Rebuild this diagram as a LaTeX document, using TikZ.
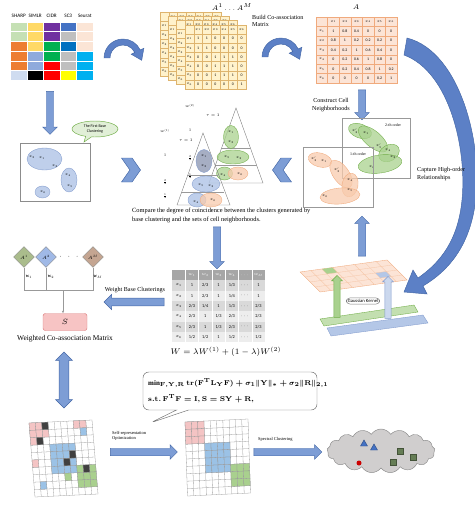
\RequirePackage{fix-cm}
\documentclass[tikz,border=0pt]{standalone}
\usepackage{amsmath,amssymb}
\usepackage{fontspec}
\setmainfont{Liberation Serif}
\setsansfont{Carlito}
\usepackage{tikz}
\usetikzlibrary{shapes,arrows.meta,positioning,calc}
\usepackage{xcolor}
\definecolor{arrowfill}{RGB}{125,157,213}
\definecolor{arrowline}{RGB}{68,103,166}
\definecolor{bigblue}{RGB}{92,128,198}
\definecolor{coyellow}{RGB}{255,242,204}
\definecolor{coline}{RGB}{222,180,110}
\definecolor{apink}{RGB}{252,228,214}
\definecolor{aline}{RGB}{240,170,125}
\definecolor{cgreen}{RGB}{169,209,142}
\definecolor{cgreenline}{RGB}{112,173,71}
\definecolor{csalmon}{RGB}{248,203,173}
\definecolor{cblue}{RGB}{180,199,231}
\definecolor{cblueline}{RGB}{130,155,205}
\definecolor{cslate}{RGB}{150,160,185}
\definecolor{whead}{RGB}{166,166,166}
\definecolor{wdark}{RGB}{217,217,217}
\definecolor{wlight}{RGB}{237,237,237}
\definecolor{tgreen}{RGB}{197,224,180}
\definecolor{tyellow}{RGB}{255,217,102}
\definecolor{tpurple}{RGB}{112,48,160}
\definecolor{tblue}{RGB}{68,114,196}
\definecolor{tpeach}{RGB}{251,229,214}
\definecolor{tgray}{RGB}{191,191,191}
\definecolor{torange}{RGB}{237,125,49}
\definecolor{tgreen2}{RGB}{0,176,80}
\definecolor{tblue2}{RGB}{0,112,192}
\definecolor{tperi}{RGB}{143,170,220}
\definecolor{tcyan}{RGB}{0,176,240}
\definecolor{tred}{RGB}{255,0,0}
\definecolor{tpale}{RGB}{207,220,240}
\definecolor{tyel}{RGB}{255,255,0}
\definecolor{gpink}{RGB}{244,196,196}
\definecolor{gblue}{RGB}{155,194,230}
\definecolor{ggreen}{RGB}{169,208,142}
\definecolor{gdark}{RGB}{64,64,64}
\definecolor{cloudgray}{RGB}{208,206,206}
\definecolor{sfill}{RGB}{247,196,196}
\definecolor{sline}{RGB}{220,130,130}
\newcommand{\upx}{0.03cm}

\begin{document}
\begin{tikzpicture}[x=0.03cm, y=-0.03cm, >=Latex]
  \tikzstyle{lbl} = [font=\fontsize{5.2}{6.2}\selectfont, inner sep=0pt, align=center]
  \tikzstyle{hdr} = [font=\sffamily\fontsize{4.4}{5}\selectfont, inner sep=0pt]
  \tikzstyle{mtxt} = [font=\sffamily\fontsize{3.3}{4}\selectfont, inner sep=0pt]
  \tikzstyle{wtxt} = [font=\sffamily\fontsize{3.7}{4.4}\selectfont, inner sep=0pt]
  \tikzstyle{itxt} = [font=\fontsize{3.4}{4}\selectfont, inner sep=0pt]
  \tikzstyle{barrow} = [single arrow, draw=arrowline, fill=arrowfill, line width=0.4pt, inner xsep=0pt, inner ysep=3pt, single arrow head extend=3pt, single arrow head indent=0pt]
  \tikzstyle{darrow} = [double arrow, draw=arrowline, fill=arrowfill, line width=0.4pt, inner xsep=0pt, inner ysep=4pt, double arrow head extend=3pt, double arrow head indent=0pt]
  \tikzstyle{chev} = [signal, draw=arrowline, fill=arrowfill, line width=0.4pt, signal pointer angle=110, minimum width=19*\upx, minimum height=24*\upx, inner sep=0pt]
  \tikzstyle{gell} = [fill=cgreen, fill opacity=0.75, draw=cgreenline, line width=0.3pt]
  \tikzstyle{sell} = [fill=csalmon, fill opacity=0.75, draw=aline, line width=0.3pt]
  \tikzstyle{bell} = [fill=cblue, fill opacity=0.85, draw=cblueline, line width=0.3pt]
  \tikzstyle{dmd} = [diamond, draw=black!45, minimum size=21*\upx, inner sep=0pt, font=\fontsize{4}{5}\selectfont]
  \tikzstyle{gridln} = [black!40, line width=0.25pt]
  \tikzstyle{objtxt} = [inner sep=0pt, anchor=west, font=\boldmath\fontsize{6}{8}\selectfont]
  \useasboundingbox (0,0) rectangle (474,506);

  % clustering methods table
  \foreach \m [count=\k from 0] in {SHARP,SIMLR,CIDR,SC3,Seurat}
    \node[hdr] (meth\k) at (18.75+16.5*\k,16) {\m};
  \foreach \rowcols [count=\r from 0] in {{tgreen,tyellow,tpurple,tblue,tpeach},{tgreen,tyellow,tpurple,tgray,tpeach},{torange,tyellow,tgreen2,tblue2,tpeach},{torange,tperi,tgreen2,tgray,tcyan},{torange,tperi,tred,tgray,tcyan},{tpale,black,tred,tyel,tcyan}}
    \foreach \cl [count=\k from 0] in \rowcols
      \filldraw[fill=\cl, draw=white, line width=0.5pt] (10.5+16.5*\k,22+9.7*\r) rectangle ++(16.5,9.7);

  % curved arrows at the top
  \foreach \cx/\cy in {123/58, 281/57}
    \filldraw[fill=bigblue, draw=arrowline, line width=0.4pt] ($(\cx,\cy)+(180:19)$) arc[start angle=180, end angle=335, radius=19] -- ($(\cx,\cy)+(335:23)$) -- ($(\cx,\cy)+(18.7,2.3)$) -- ($(\cx,\cy)+(335:9)$) -- ($(\cx,\cy)+(335:13)$) arc[start angle=335, end angle=180, radius=13] -- cycle;

  % stack of co-association matrices
  \node[font=\fontsize{6}{7}\selectfont, inner sep=0pt] (stacklbl) at (232,7) {$A^1 \ldots A^M$};
  \foreach \dx/\dy in {-25/-13,-17/-9,-9/-5,0/0} {
    \begin{scope}[shift={(185+\dx,25+\dy)}]
      \filldraw[fill=coyellow, draw=coline, line width=0.3pt] (0,0) rectangle (61,64);
      \foreach \i in {1,...,6} {
        \draw[coline, line width=0.3pt] (8.7*\i,0) -- (8.7*\i,64) (0,9.14*\i) -- (61,9.14*\i);
        \node[mtxt] (ch\i) at (8.7*\i+4.35,4.57) {$x_{\i}$};
        \node[mtxt] (rh\i) at (4.35,9.14*\i+4.57) {$x_{\i}$};
      }
    \end{scope}
  }
  \foreach \vals [count=\r] in {{1,1,0,0,0,0},{1,1,0,0,0,0},{0,0,1,1,1,0},{0,0,1,1,1,0},{0,0,1,1,1,0},{0,0,0,0,0,1}}
    \foreach \v [count=\k] in \vals
      \node[mtxt] (f\r\k) at (185+8.7*\k+4.35,25+9.14*\r+4.57) {\v};
  \node[lbl, anchor=north west, align=left] (buildtxt) at (252,15) {Build Co-association\\Matrix};

  % consensus matrix A
  \node[font=\fontsize{6}{7}\selectfont, inner sep=0pt] (Alabel) at (356,7) {$A$};
  \filldraw[fill=apink, draw=aline, line width=0.3pt] (316,17) rectangle (397,83);
  \foreach \i in {1,...,6} {
    \draw[aline, line width=0.3pt] (316+11.57*\i,17) -- (316+11.57*\i,83) (316,17+9.43*\i) -- (397,17+9.43*\i);
    \node[mtxt] (ach\i) at (316+11.57*\i+5.79,17+4.71) {$x_{\i}$};
    \node[mtxt] (arh\i) at (316+5.79,17+9.43*\i+4.71) {$x_{\i}$};
  }
  \foreach \vals [count=\r] in {{1,0.8,0.4,0,0,0},{0.8,1,0.2,0.2,0.2,0},{0.4,0.2,1,0.6,0.4,0},{0,0.2,0.6,1,0.8,0},{0,0.2,0.4,0.8,1,0.2},{0,0,0,0,0.2,1}}
    \foreach \v [count=\k] in \vals
      \node[mtxt] (a\r\k) at (316+11.57*\k+5.79,17+9.43*\r+4.71) {\v};

  % big arrow down the right side
  \filldraw[fill=bigblue, draw=arrowline, line width=0.4pt] (407,38) .. controls (462,52) and (484,150) .. (475,205) .. controls (469,245) and (450,270) .. (423,286) -- (427,294) -- (404,292) -- (413,270) -- (418,278) .. controls (441,262) and (458,240) .. (462,200) .. controls (467,150) and (450,72) .. (404,55) -- cycle;

  % block arrows
  \node[barrow, rotate=270, minimum height=43*\upx, minimum width=13*\upx] (arrTab) at (50,111) {};
  \node[barrow, rotate=270, minimum height=30*\upx, minimum width=13*\upx] (arrA) at (362,103) {};
  \node[barrow, rotate=90, minimum height=40*\upx, minimum width=13*\upx] (arrK) at (362,238) {};
  \node[barrow, rotate=270, minimum height=42*\upx, minimum width=13*\upx] (arrW) at (217,246) {};
  \node[barrow, rotate=180, minimum height=60*\upx, minimum width=15*\upx] (arrWb) at (136,302) {};
  \node[darrow, rotate=90, minimum height=56*\upx, minimum width=16*\upx] (arrS) at (64,380) {};
  \node[barrow, minimum height=67*\upx, minimum width=14*\upx] (arrOpt) at (142,452) {};
  \node[barrow, minimum height=68*\upx, minimum width=14*\upx] (arrSpec) at (286,452) {};
  \node[chev, signal to=east, signal from=west] (chevR) at (131,170) {};
  \node[chev, signal to=west, signal from=east] (chevL) at (282,170) {};

  % first base clustering
  \node[ellipse callout, draw=cgreenline, fill=cgreen!35, callout absolute pointer={(84,142)}, minimum width=46*\upx, minimum height=16*\upx, inner sep=0pt, font=\sffamily\fontsize{3.4}{4}\selectfont, align=center] (bubble) at (95,129) {The First Base\\Clustering};
  \draw[black!45, line width=0.3pt] (20,143) rectangle (90,201);
  \draw[bell] (44.5,159) ellipse [x radius=17.5, y radius=11];
  \draw[bell] (69,180) ellipse [x radius=8, y radius=12];
  \draw[bell] (42.5,192) ellipse [x radius=7.5, y radius=6];
  \node[itxt] (b1) at (32,157) {$x_2$};
  \node[itxt] (b2) at (42,158) {$x_1$};
  \node[itxt] (b3) at (55,166) {$x_3$};
  \node[itxt] (b4) at (68,175) {$x_4$};
  \node[itxt] (b5) at (70,186) {$x_5$};
  \node[itxt] (b6) at (43,192) {$x_6$};

  % two pyramids
  \node[itxt] (wax2) at (190,106) {$w^{(2)}$};
  \node[itxt] (t2a) at (190,130) {1};
  \node[itxt] (t2b) at (190,158) {$\frac{2}{3}$};
  \node[itxt] (t2c) at (190,176) {$\frac{1}{3}$};
  \node[itxt] (tau2) at (213,115) {$\tau=1$};
  \draw[black!55, line width=0.3pt] (236,108) -- (209,183) -- (263,183) -- cycle;
  \draw[black!40, line width=0.3pt] (221,148) -- (250,148) (214.5,165) -- (256.5,165);
  \draw[gell] (231,137) ellipse [x radius=7.5, y radius=11.5];
  \draw[gell] (233,157) ellipse [x radius=16, y radius=7];
  \draw[gell] (224.5,173.5) ellipse [x radius=8, y radius=6.5];
  \draw[sell] (238,173.5) ellipse [x radius=10, y radius=6.5];
  \node[itxt] (p1) at (231,132) {$x_1$};
  \node[itxt] (p2) at (231,142) {$x_2$};
  \node[itxt] (p3) at (227,157) {$x_5$};
  \node[itxt] (p4) at (239,158) {$x_3$};
  \node[itxt] (p5) at (223,175) {$x_4$};
  \node[itxt] (p6) at (240,174) {$x_6$};
  \node[itxt] (wax1) at (165,131) {$w^{(1)}$};
  \node[itxt] (t1a) at (165,155) {1};
  \node[itxt] (t1b) at (165,182) {$\frac{2}{3}$};
  \node[itxt] (t1c) at (165,196) {$\frac{1}{3}$};
  \node[itxt] (tau1) at (186,140) {$\tau=1$};
  \draw[black!55, line width=0.3pt] (203,133) -- (177,205) -- (230,205) -- cycle;
  \draw[black!40, line width=0.3pt] (187,175) -- (218,175) (181,192) -- (224,192);
  \draw[fill=cslate, fill opacity=0.85, draw=cblueline, line width=0.3pt] (204,161) ellipse [x radius=8, y radius=11.5];
  \draw[bell] (206,184) ellipse [x radius=14, y radius=8];
  \draw[bell] (197,200) ellipse [x radius=9, y radius=7];
  \draw[sell] (211,200) ellipse [x radius=11, y radius=7];
  \node[itxt] (q1) at (204,156) {$x_1$};
  \node[itxt] (q2) at (204,166) {$x_2$};
  \node[itxt] (q3) at (201,185) {$x_5$};
  \node[itxt] (q4) at (211,186) {$x_3$};
  \node[itxt] (q5) at (196,202) {$x_4$};
  \node[itxt] (q6) at (213,200) {$x_6$};
  \node[lbl, anchor=north west, align=left, font=\fontsize{5.45}{7.6}\selectfont] (caption) at (132,207.5) {Compare the degree of coincidence between the clusters generated by\\base clustering  and the sets of cell neighborhoods.};

  % cell neighborhoods
  \node[lbl] (constr) at (331,105) {Construct Cell\\Neighborhoods};
  \draw[black!40, line width=0.3pt] (342,118) rectangle (410,178);
  \draw[gell, rotate around={-20:(360,131)}] (360,131) ellipse [x radius=12, y radius=7];
  \draw[gell, rotate around={-40:(373,139)}] (373,139) ellipse [x radius=18, y radius=8];
  \draw[gell, rotate around={30:(389,153)}] (389,153) ellipse [x radius=11, y radius=8];
  \draw[gell, rotate around={8:(380,164)}] (380,164) ellipse [x radius=22, y radius=9];
  \node[itxt] (n1) at (355,131) {$x_3'$};
  \node[itxt] (n2) at (366,133) {$x_1$};
  \node[itxt] (n3) at (379,146) {$x_5'$};
  \node[itxt] (n4) at (388,150) {$x_4$};
  \node[itxt] (n5) at (393,157) {$x_3$};
  \node[itxt] (n6) at (372,167) {$x_6$};
  \node[itxt] (ord2) at (393,125) {2-th order};
  \draw[black!40, line width=0.3pt] (303,147) rectangle (373,207);
  \draw[sell, rotate around={-15:(320,160)}] (320,160) ellipse [x radius=12, y radius=7];
  \draw[sell, rotate around={-55:(341,174)}] (341,174) ellipse [x radius=16, y radius=8];
  \draw[sell, rotate around={-10:(350,185)}] (350,185) ellipse [x radius=8, y radius=12];
  \draw[sell, rotate around={5:(340,196)}] (340,196) ellipse [x radius=20, y radius=8];
  \node[itxt] (m1) at (314,159) {$x_3'$};
  \node[itxt] (m2) at (324,161) {$x_1$};
  \node[itxt] (m3) at (337,170) {$x_2'$};
  \node[itxt] (m4) at (350,180) {$x_4$};
  \node[itxt] (m5) at (350,190) {$x_5$};
  \node[itxt] (m6) at (325,196) {$x_6$};
  \node[itxt] (ord1) at (358,154) {1-th order};
  \node[lbl, anchor=west, align=left] (capture) at (417,174) {Capture High-order\\Relationships};

  % Gaussian kernel
  \filldraw[fill=apink, draw=aline, line width=0.3pt] (300,272) -- (387,260) -- (407,280) -- (320,292) -- cycle;
  \fill[cgreen] (300+10.875*2,272-1.5*2) -- ++(10.875,-1.5) -- ++(5,5) -- ++(-10.875,1.5) -- cycle;
  \fill[cblue] (300+10.875*6+10,272-1.5*6+10) -- ++(10.875,-1.5) -- ++(5,5) -- ++(-10.875,1.5) -- cycle;
  \foreach \i in {1,...,7}
    \draw[aline!70, line width=0.25pt] (300+10.875*\i,272-1.5*\i) -- ++(20,20);
  \foreach \j in {1,...,3}
    \draw[aline!70, line width=0.25pt] (300+5*\j,272+5*\j) -- ++(87,-12);
  \filldraw[fill=cgreen!70, draw=cgreenline, line width=0.3pt] (320,319) -- (414,305) -- (418,312) -- (324,326) -- cycle;
  \filldraw[fill=cblue, draw=cblueline, line width=0.3pt] (327,328) -- (423,315) -- (428,323) -- (331,336) -- cycle;
  \node[single arrow, draw=cgreenline, fill=cgreen, rotate=90, inner xsep=0pt, inner ysep=2.5pt, single arrow head extend=2pt, minimum height=42*\upx, minimum width=10*\upx] (garr) at (337,298) {};
  \node[single arrow, draw=cblueline, fill=cblue!70, rotate=90, inner xsep=0pt, inner ysep=2.5pt, single arrow head extend=2pt, minimum height=42*\upx, minimum width=10*\upx] (barr) at (388,299) {};
  \node[draw=black!50, fill=white, rounded corners=3pt, inner sep=1.2pt, font=\sffamily\fontsize{4}{5}\selectfont] (gauss) at (363,301) {Gaussian Kernel};

  % weight table
  \fill[whead] (172,270) rectangle (265,280.3);
  \foreach \r/\sh in {1/wdark,2/wlight,3/wdark,4/wlight,5/wdark,6/wlight}
    \fill[\sh] (172,270+10.3*\r) rectangle (265,280.3+10.3*\r);
  \foreach \i in {1,...,6}
    \draw[white, line width=0.5pt] (172+13.3*\i,270) -- (172+13.3*\i,342);
  \foreach \h [count=\k] in {$w_1$,$w_2$,$w_3$,$w_4$,$\cdots$,$w_M$}
    \node[wtxt, text=white] (wh\k) at (172+13.3*\k+6.65,275.15) {\h};
  \foreach \vals [count=\r] in {{1,2/3,1,1/3,$\cdots$,1},{1,2/3,1,1/4,$\cdots$,1},{2/3,1/4,1,1/3,$\cdots$,2/3},{2/3,1,1/3,2/3,$\cdots$,2/3},{2/3,1,1/3,2/3,$\cdots$,2/3},{1/2,1/2,1,1/2,$\cdots$,1/2}} {
    \node[wtxt] (wr\r) at (178.65,275.15+10.3*\r) {$x_{\r}$};
    \foreach \v [count=\k] in \vals
      \node[wtxt] (w\r\k) at (172+13.3*\k+6.65,275.15+10.3*\r) {\v};
  }
  \node[font=\fontsize{7}{8}\selectfont, inner sep=0pt] (wform) at (226,352) {$W=\lambda W^{(1)}+(1-\lambda)W^{(2)}$};
  \node[lbl] (wbase) at (135,290) {Weight Base Clusterings};

  % weighted base clusterings
  \node[dmd, fill={rgb,255:red,170;green,188;blue,140}] (d1) at (24,257) {$A^1$};
  \node[dmd, fill={rgb,255:red,160;green,185;blue,230}] (d2) at (46,257) {$A^2$};
  \node[dmd, fill={rgb,255:red,196;green,165;blue,145}] (dM) at (93,257) {$A^M$};
  \node[inner sep=0pt, font=\fontsize{6}{7}\selectfont] (ddots) at (69,257) {$\cdot\ \ \cdot\ \ \cdot$};
  \coordinate (bar) at (63,290);
  \draw[black!40, line width=0.3pt] (d1.south) |- (bar) (dM.south) |- (bar) (d2.south) -- (d2.south |- bar);
  \node[itxt, font=\fontsize{4}{5}\selectfont] (wt1) at (29,277) {$\mathbf{w}_1$};
  \node[itxt, font=\fontsize{4}{5}\selectfont] (wt2) at (51,277) {$\mathbf{w}_2$};
  \node[itxt, font=\fontsize{4}{5}\selectfont] (wtM) at (98,277) {$\mathbf{w}_M$};
  \node[draw=sline, fill=sfill, rounded corners=2pt, minimum width=44*\upx, minimum height=17*\upx, inner sep=0pt, font=\fontsize{6.5}{7}\selectfont] (S) at (65,322) {$S$};
  \draw[->, black!40, line width=0.3pt, >={Latex[length=2pt,width=2pt]}] (bar) -- (S.north -| bar);
  \node[lbl, font=\fontsize{6.3}{7}\selectfont] (wcam) at (65,339) {Weighted Co-association Matrix};

  % affinity matrices
  \foreach \ox/\oy/\vx in {29/423/0.6, 185/422/0.25}
    \foreach \k in {0,...,10} {
      \draw[gridln] (\ox+6.3*\k,\oy-0.3*\k) -- ++(10*\vx,74);
      \draw[gridln] (\ox+\vx*\k,\oy+7.4*\k) -- ++(63,-3);
    }
  \foreach \i/\j/\cl in {0/0/gpink,1/0/gpink,0/1/gpink,1/1/gpink,2/1/gpink,0/2/gpink,7/0/gpink,8/0/gpink,0/5/gpink,
      3/3/gblue,4/3/gblue,5/3/gblue,6/3/gblue,3/4/gblue,4/4/gblue,5/4/gblue,3/5/gblue,4/5/gblue,6/5/gblue,3/6/gblue,4/6/gblue,5/6/gblue,6/6/gblue,8/1/gblue,1/8/gblue,
      7/6/ggreen,9/6/ggreen,7/7/ggreen,8/7/ggreen,9/7/ggreen,7/8/ggreen,8/8/ggreen,9/8/ggreen,5/7/ggreen,
      2/0/gdark,1/2/gdark,6/4/gdark,5/5/gdark,8/6/gdark}
    \filldraw[fill=\cl, draw=black!40, line width=0.25pt] (29+6.3*\i+0.6*\j,423-0.3*\i+7.4*\j) -- ++(6.3,-0.3) -- ++(0.6,7.4) -- ++(-6.3,0.3) -- cycle;
  \foreach \i/\j/\cl in {0/0/gpink,1/0/gpink,2/0/gpink,0/1/gpink,1/1/gpink,2/1/gpink,0/2/gpink,1/2/gpink,2/2/gpink,
      3/3/gblue,4/3/gblue,5/3/gblue,6/3/gblue,3/4/gblue,4/4/gblue,5/4/gblue,6/4/gblue,3/5/gblue,4/5/gblue,5/5/gblue,6/5/gblue,3/6/gblue,4/6/gblue,5/6/gblue,6/6/gblue,
      7/6/ggreen,8/6/ggreen,9/6/ggreen,7/7/ggreen,8/7/ggreen,9/7/ggreen,7/8/ggreen,8/8/ggreen,9/8/ggreen}
    \filldraw[fill=\cl, draw=black!40, line width=0.25pt] (185+6.3*\i+0.25*\j,422-0.3*\i+7.4*\j) -- ++(6.3,-0.3) -- ++(0.25,7.4) -- ++(-6.3,0.3) -- cycle;
  \node[lbl, anchor=west, align=left, font=\fontsize{3.8}{4.8}\selectfont] (selfrep) at (112,436) {Self-representation\\Optimization};
  \node[lbl, anchor=west, font=\fontsize{3.8}{4.8}\selectfont] (spec) at (258,439) {Spectral Clustering};

  % objective
  \coordinate (calltip) at (150,423);
  \node[rectangle callout, draw=black!55, fill=white, rounded corners=5pt, callout absolute pointer={(calltip)}, callout pointer width=12*\upx, minimum width=174*\upx, minimum height=38*\upx, inner sep=0pt] (obj) at (230,391) {};
  \node[objtxt] (obj1) at (148,383) {$\min_{\mathbf{F},\mathbf{Y},\mathbf{R}}\mathbf{tr}(\mathbf{F}^{\mathbf{T}}\mathbf{L}_{\mathbf{Y}}\mathbf{F})+\sigma_1\|\mathbf{Y}\|_*+\sigma_2\|\mathbf{R}\|_{2,1}$};
  \node[objtxt] (obj2) at (148,399) {$\mathbf{s.t.\,F^{T}F=I,S=SY+R,}$};

  % final clusters
  \node[cloud, cloud puffs=17, cloud puff arc=115, aspect=2.5, draw=black!45, fill=cloudgray, minimum width=108*\upx, minimum height=44*\upx, inner sep=0pt] (cloud) at (381,451) {};
  \node[regular polygon, regular polygon sides=3, fill=tblue, draw=tblue!70!black, minimum size=8*\upx, inner sep=0pt] (tri1) at (364,444) {};
  \node[regular polygon, regular polygon sides=3, fill=tblue, draw=tblue!70!black, minimum size=8*\upx, inner sep=0pt] (tri2) at (374,448) {};
  \node[circle, fill=red!80!black, minimum size=5*\upx, inner sep=0pt] (dot1) at (359,463) {};
  \node[fill=ggreen!60!black, draw=ggreen!40!black, minimum size=6*\upx, inner sep=0pt] (sq1) at (400,451) {};
  \node[fill=ggreen!60!black, draw=ggreen!40!black, minimum size=6*\upx, inner sep=0pt] (sq2) at (393,462) {};
  \node[fill=ggreen!60!black, draw=ggreen!40!black, minimum size=6*\upx, inner sep=0pt] (sq3) at (413,457) {};
\end{tikzpicture}
\end{document}
